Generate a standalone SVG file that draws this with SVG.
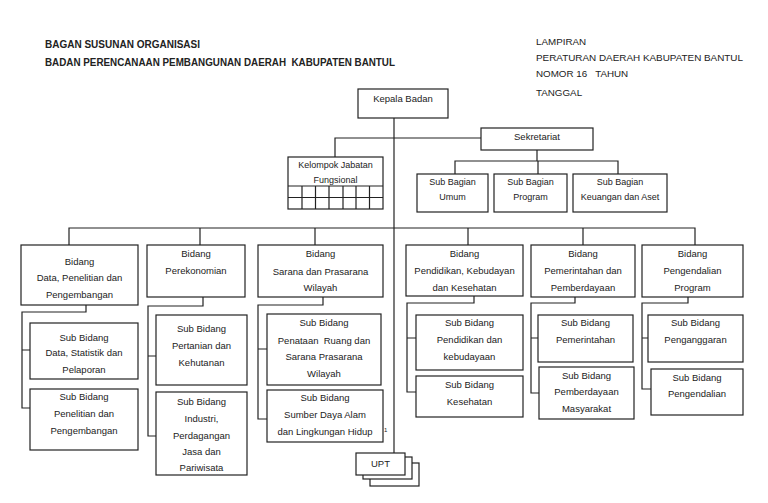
<svg xmlns="http://www.w3.org/2000/svg" width="768" height="503" viewBox="0 0 768 503">
<style>
  .b{fill:#fff;stroke:#222;stroke-width:1.2}
  .c{fill:none;stroke:#222;stroke-width:1.2}
  text{font-family:"Liberation Sans",Arial,sans-serif;fill:#222;font-size:9.5px}
  .m{text-anchor:middle}
  .h{font-weight:bold;font-size:10px}
  .s{font-size:9px}
  .r{font-size:9.8px}
</style>
<rect width="768" height="503" fill="#fff"/>
<g id="header">
  <text class="h" x="45" y="48">BAGAN SUSUNAN ORGANISASI</text>
  <text class="h" x="45" y="66" textLength="350" lengthAdjust="spacingAndGlyphs" xml:space="preserve">BADAN PERENCANAAN PEMBANGUNAN DAERAH  KABUPATEN BANTUL</text>
  <text class="r" x="536" y="45">LAMPIRAN</text>
  <text class="r" x="536" y="61" textLength="207" lengthAdjust="spacingAndGlyphs">PERATURAN DAERAH KABUPATEN BANTUL</text>
  <text class="r" x="536" y="77" xml:space="preserve">NOMOR 16   TAHUN</text>
  <text class="r" x="536" y="96">TANGGAL</text>
</g>
<g id="connectors">
  <path class="c" d="M394 118V453"/>
  <path class="c" d="M335 157V138H481"/>
  <path class="c" d="M537 150V161M455 174V161H618V174M538 161V174"/>
  <path class="c" d="M69 245V228H695V245M200 228V245M315 228V245M468 228V245M583 228V245"/>
  <path class="c" d="M86 305V312H22V408H30M22 350H30"/>
  <path class="c" d="M203 297V306H148V436H156M148 356H156"/>
  <path class="c" d="M323 297V305H258V419H267M258 349H267"/>
  <path class="c" d="M474 296V303H407V392H416M407 338H416"/>
  <path class="c" d="M575 297V303H531V393H539M531 338H538"/>
  <path class="c" d="M688 297V303H642V389H651M642 338H648"/>
</g>
<g id="kepala">
  <rect class="b" x="358" y="89" width="90" height="29"/>
  <text class="m" x="403" y="102">Kepala Badan</text>
</g>
<g id="sekretariat">
  <rect class="b" x="481" y="128" width="112" height="22"/>
  <text class="m" x="537" y="140">Sekretariat</text>
</g>
<g id="kelompok">
  <rect class="b" x="288" y="157" width="95" height="52"/>
  <path class="c" d="M288 186H383M288 197.5H383M302 186V209M315.5 186V209M329 186V209M343 186V209M356 186V209M369.5 186V209"/>
  <text class="m s" x="335.5" y="168">Kelompok Jabatan</text>
  <text class="m s" x="335.5" y="183">Fungsional</text>
</g>
<g id="sub-umum">
  <rect class="b" x="417" y="174" width="71" height="38"/>
  <text class="m s" x="452.5" y="185">Sub Bagian</text>
  <text class="m s" x="452.5" y="200">Umum</text>
</g>
<g id="sub-program">
  <rect class="b" x="494" y="174" width="73" height="38"/>
  <text class="m s" x="530.5" y="185">Sub Bagian</text>
  <text class="m s" x="530.5" y="200">Program</text>
</g>
<g id="sub-keuangan">
  <rect class="b" x="573" y="174" width="94" height="38"/>
  <text class="m s" x="620" y="185">Sub Bagian</text>
  <text class="m s" x="620" y="200">Keuangan dan Aset</text>
</g>
<g id="bidang-data">
  <rect class="b" x="21" y="245" width="117" height="60"/>
  <text class="m" x="79.5" y="265">Bidang</text>
  <text class="m" x="79.5" y="281">Data, Penelitian dan</text>
  <text class="m" x="79.5" y="298">Pengembangan</text>
</g>
<g id="bidang-ekonomi">
  <rect class="b" x="147" y="245" width="98" height="52"/>
  <text class="m" x="196" y="257">Bidang</text>
  <text class="m" x="196" y="274">Perekonomian</text>
</g>
<g id="bidang-sarana">
  <rect class="b" x="258" y="245" width="125" height="52"/>
  <text class="m" x="320.5" y="257">Bidang</text>
  <text class="m" x="320.5" y="275">Sarana dan Prasarana</text>
  <text class="m" x="320.5" y="291">Wilayah</text>
</g>
<g id="bidang-pendidikan">
  <rect class="b" x="406" y="245" width="117" height="51"/>
  <text class="m" x="464.5" y="257">Bidang</text>
  <text class="m" x="464.5" y="274">Pendidikan, Kebudayan</text>
  <text class="m" x="464.5" y="291">dan Kesehatan</text>
</g>
<g id="bidang-pemerintahan">
  <rect class="b" x="531" y="245" width="104" height="52"/>
  <text class="m" x="583" y="257">Bidang</text>
  <text class="m" x="583" y="274">Pemerintahan dan</text>
  <text class="m" x="583" y="291">Pemberdayaan</text>
</g>
<g id="bidang-pengendalian">
  <rect class="b" x="642" y="245" width="101" height="52"/>
  <text class="m" x="692.5" y="257">Bidang</text>
  <text class="m" x="692.5" y="274">Pengendalian</text>
  <text class="m" x="692.5" y="291">Program</text>
</g>
<g id="sub-statistik">
  <rect class="b" x="30" y="323" width="108" height="56"/>
  <text class="m" x="84" y="341">Sub Bidang</text>
  <text class="m" x="84" y="356">Data, Statistik dan</text>
  <text class="m" x="84" y="373">Pelaporan</text>
</g>
<g id="sub-penelitian">
  <rect class="b" x="30" y="389" width="108" height="61"/>
  <text class="m" x="84" y="400">Sub Bidang</text>
  <text class="m" x="84" y="417">Penelitian dan</text>
  <text class="m" x="84" y="434">Pengembangan</text>
</g>
<g id="sub-pertanian">
  <rect class="b" x="156" y="315" width="91" height="70"/>
  <text class="m" x="201.5" y="332">Sub Bidang</text>
  <text class="m" x="201.5" y="349">Pertanian dan</text>
  <text class="m" x="201.5" y="366">Kehutanan</text>
</g>
<g id="sub-industri">
  <rect class="b" x="156" y="392" width="91" height="83"/>
  <text class="m" x="201.5" y="405">Sub Bidang</text>
  <text class="m" x="201.5" y="422">Industri,</text>
  <text class="m" x="201.5" y="439">Perdagangan</text>
  <text class="m" x="201.5" y="455">Jasa dan</text>
  <text class="m" x="201.5" y="471">Pariwisata</text>
</g>
<g id="sub-penataan">
  <rect class="b" x="267" y="314" width="114" height="71"/>
  <text class="m" x="324" y="326">Sub Bidang</text>
  <text class="m" x="324" y="344" xml:space="preserve">Penataan  Ruang dan</text>
  <text class="m" x="324" y="360">Sarana Prasarana</text>
  <text class="m" x="324" y="377">Wilayah</text>
</g>
<g id="sub-sda">
  <rect class="b" x="267" y="390" width="116" height="52"/>
  <text class="m" x="325" y="401">Sub Bidang</text>
  <text class="m" x="325" y="418">Sumber Daya Alam</text>
  <text class="m" x="325" y="435">dan Lingkungan Hidup</text>
  <text x="384" y="432" style="font-size:6px">1</text>
</g>
<g id="sub-pendidikan">
  <rect class="b" x="416" y="315" width="107" height="55"/>
  <text class="m" x="469.5" y="326">Sub Bidang</text>
  <text class="m" x="469.5" y="343">Pendidikan dan</text>
  <text class="m" x="469.5" y="360">kebudayaan</text>
</g>
<g id="sub-kesehatan">
  <rect class="b" x="416" y="376" width="107" height="41"/>
  <text class="m" x="469.5" y="388">Sub Bidang</text>
  <text class="m" x="469.5" y="405">Kesehatan</text>
</g>
<g id="sub-pemerintahan">
  <rect class="b" x="538" y="315" width="95" height="47"/>
  <text class="m" x="585.5" y="326">Sub Bidang</text>
  <text class="m" x="585.5" y="343">Pemerintahan</text>
</g>
<g id="sub-pemberdayaan">
  <rect class="b" x="539" y="367" width="95" height="52"/>
  <text class="m" x="586.5" y="379">Sub Bidang</text>
  <text class="m" x="586.5" y="395">Pemberdayaan</text>
  <text class="m" x="586.5" y="412">Masyarakat</text>
</g>
<g id="sub-penganggaran">
  <rect class="b" x="648" y="315" width="95" height="47"/>
  <text class="m" x="695.5" y="326">Sub Bidang</text>
  <text class="m" x="695.5" y="343">Penganggaran</text>
</g>
<g id="sub-pengendalian">
  <rect class="b" x="651" y="369" width="92" height="46"/>
  <text class="m" x="697" y="381">Sub Bidang</text>
  <text class="m" x="697" y="397">Pengendalian</text>
</g>
<g id="upt">
  <rect class="b" x="370" y="463" width="49" height="23"/>
  <rect class="b" x="363" y="457" width="49" height="22"/>
  <rect class="b" x="356" y="453" width="49" height="22"/>
  <text class="m" x="380.5" y="467">UPT</text>
</g>
</svg>
